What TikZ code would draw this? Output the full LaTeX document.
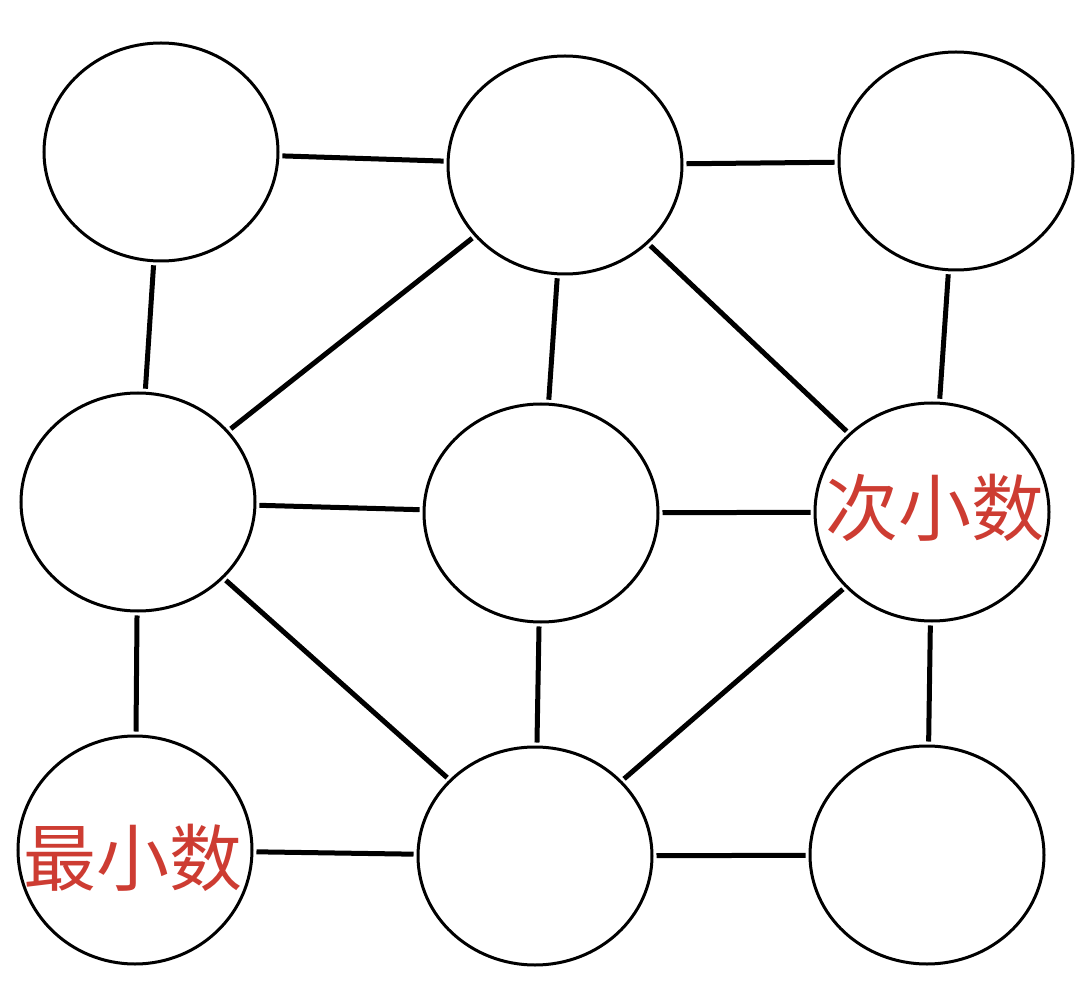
\documentclass[tikz,border=0pt]{standalone}
\usepackage{fontspec}
\newfontfamily\cjk{Noto Sans CJK SC}
\usetikzlibrary{shapes.geometric}
\definecolor{lbl}{RGB}{205,60,50}
\begin{document}
\begin{tikzpicture}[x=1pt,y=-1pt,
  ball/.style={ellipse,draw,line width=3pt,minimum width=234pt,minimum height=218pt,inner sep=0pt},
  link/.style={line width=5pt,shorten <=3pt,shorten >=3pt},
  lab/.style={text=lbl,font=\cjk\fontsize{73}{73}\selectfont}]
\useasboundingbox (0,0) rectangle (1080,984);
\fill[white] (0,0) rectangle (1080,984);
\node[ball] (A) at (161,152) {};
\node[ball] (B) at (565,165) {};
\node[ball] (C) at (956,161) {};
\node[ball] (D) at (138,502) {};
\node[ball] (E) at (541,513) {};
\node[ball] (F) at (932,512) {};
\node[ball,minimum height=228pt] (G) at (135,850) {};
\node[ball] (H) at (535,856) {};
\node[ball] (I) at (927,855) {};
\node[lab] (tF) at (935,508) {次小数};
\node[lab] (tG) at (133,858) {最小数};
\foreach \a/\b in {A/B,B/C,A/D,B/D,B/E,B/F,C/F,D/E,E/F,D/G,D/H,E/H,F/H,F/I,G/H,H/I}
  \draw[link] (\a) -- (\b);
\end{tikzpicture}
\end{document}
